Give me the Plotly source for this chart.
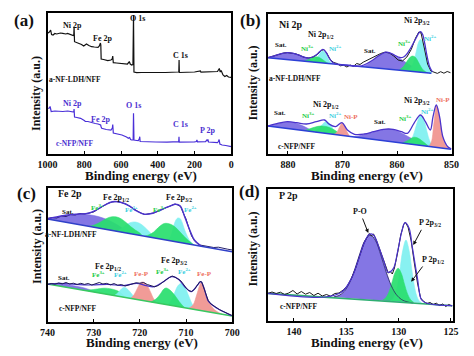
import plotly.graph_objects as go

FONT = "Liberation Serif, Times New Roman, serif"
W, H = 474, 356

# ---------------- (a) survey spectra ----------------
a_ldh_ev = [1000, 990, 983, 978, 970, 960, 950, 930, 917, 900, 891, 880, 869, 860, 857, 855.5, 853,
            840, 829, 815, 803, 795, 788, 775, 760, 745, 725, 718, 715, 712, 710, 708, 695, 672, 655,
            648, 645, 642, 625, 603, 580, 565, 558, 555, 550, 542, 535, 532, 529.5, 515, 490, 445,
            358, 288, 285.5, 284, 282.5, 200, 168, 165, 100, 75, 65, 60, 55, 45, 35, 25, 15, 0]
a_ldh_int = [120.7, 122, 124, 119.5, 119, 120.5, 120, 121, 120.7, 120, 120.5, 119.5, 119, 118.5, 119,
             127.3, 112.3, 111.5, 110.7, 109.5, 108, 109.5, 110, 108.5, 107.3, 107, 106.7, 108, 110.5,
             111, 109, 95, 94.5, 93.3, 94, 95, 98, 91.3, 91, 90.7, 90.3, 90, 91.5, 92.5, 90, 89, 89.5,
             139, 82, 81.3, 81.5, 81.3, 81.5, 82, 82, 94, 81.5, 82, 83, 81.8, 82, 82.5, 85.5, 82, 83.5,
             79, 77.5, 78.5, 77, 76.7]
a_nfp_ev = [1000, 990, 986, 980, 960, 940, 917, 890, 865, 857, 855.5, 853, 840, 820, 800, 794, 780,
            760, 740, 725, 715, 711, 708, 705, 680, 655, 647, 645, 642, 620, 595, 570, 560, 553, 548,
            542, 534, 532, 529.5, 515, 506, 500, 498, 496, 480, 411, 350, 288, 286, 284.5, 283, 200,
            190, 187, 184, 140, 133, 130, 127, 124, 100, 75, 70, 66, 62, 50, 30, 19, 10, 0]
a_nfp_int = [45.7, 46, 47.5, 42.5, 43, 42.5, 42.5, 43, 42.3, 42, 45, 37, 36.5, 35.7, 33.5, 32.5, 32.5,
             31.3, 30.5, 30, 29.5, 29, 27, 25.7, 24.5, 24, 26, 29.5, 21, 20, 19, 17, 15.7, 16.5, 14.5,
             14, 14, 40.7, 14, 13.5, 13.3, 15.5, 17.3, 12.5, 12.3, 12, 11.8, 12.3, 12.3, 17.3, 11.8,
             12.2, 12.5, 14, 12.2, 12.3, 14, 13, 14.5, 12, 11.7, 11.3, 12.5, 14.5, 10, 9, 8.5, 8, 7.5, 7.3]

# ---------------- (b) Ni 2p ----------------
b1_base_ev = [883.7, 853.7]
b1_base_int = [96.3, 80.7]
b1_sat1_ev = [883.7, 882.5, 881.0, 880.0, 879.0, 878.0, 877.0, 876.0, 875.3]
b1_sat1_int = [96.3, 98.0, 100.5, 101.3, 100.7, 99.0, 97.0, 94.8, 92.0]
b1_ni3a_ev = [877.0, 876.3, 875.6, 875.0, 874.4, 873.8, 873.2, 872.6]
b1_ni3a_int = [92.8, 94.5, 96.6, 97.3, 96.8, 95.0, 92.6, 90.5]
b1_ni2a_ev = [875.4, 874.9, 874.4, 874.0, 873.6, 873.2, 872.8, 872.4, 871.9]
b1_ni2a_int = [92.0, 94.5, 98.5, 101.8, 103.0, 101.5, 97.5, 93.0, 90.2]
b1_sat2_ev = [866.5, 865.5, 864.5, 863.5, 862.5, 862.0, 861.5, 860.5, 859.5, 858.5, 857.5, 856.5,
              855.5, 854.5, 853.8]
b1_sat2_int = [87.4, 89.5, 93.0, 97.5, 101.0, 101.8, 101.5, 99.0, 95.5, 92.0, 88.5, 85.5, 83.5, 82.0, 80.8]
b1_ni3b_ev = [859.6, 858.8, 858.2, 857.6, 857.1, 856.6, 856.1, 855.6, 855.1, 854.4]
b1_ni3b_int = [83.9, 87.5, 92.5, 96.8, 98.0, 96.5, 92.0, 87.0, 83.5, 81.2]
b1_ni2b_ev = [858.2, 857.5, 857.0, 856.5, 856.1, 855.7, 855.3, 855.0, 854.6, 854.2, 853.6]
b1_ni2b_int = [83.4, 86.0, 91.5, 102.0, 111.0, 114.5, 112.0, 105.5, 95.0, 86.5, 80.8]
b1_env_ev = [883.7, 882.5, 881, 880.1, 879, 878, 877, 876.2, 875.5, 874.8, 874.2, 873.6, 873, 872.4,
             871.8, 871.2, 870.5, 869.5, 868.5, 867.5, 866.5, 865.5, 864.5, 863.5, 862.5, 862, 861.5,
             860.5, 859.5, 858.8, 858.2, 857.6, 857, 856.5, 856, 855.7, 855.3, 854.9, 854.5, 854, 853.5]
b1_env_int = [96.3, 98.2, 100.6, 101.3, 100.6, 98.8, 96.8, 96.0, 97.0, 99.2, 102.3, 104.7, 101.5, 95.5,
              91.5, 90.0, 89.4, 88.9, 88.4, 88.0, 88.2, 90.5, 93.8, 97.8, 101, 101.8, 101.4, 99, 96.5, 97,
              100, 105, 111, 116, 121, 122.3, 119.5, 110, 98, 87, 82]
b1_raw_ev = [883.7, 883.0, 882.3, 881.5, 880.8, 880.1, 879.4, 878.6, 877.8, 877.0, 876.2, 875.4, 874.6,
             873.9, 873.4, 872.8, 872.2, 871.6, 871.0, 870.4, 869.8, 869.2, 868.6, 868.0, 867.4, 866.8,
             866.2, 865.4, 864.6, 863.8, 863.0, 862.2, 861.4, 860.6, 859.8, 859.0, 858.2, 857.4, 856.6,
             856.0, 855.6, 855.0, 854.4, 853.8, 853.2, 852.6, 852.0, 851.4, 850.8, 850.2]
b1_raw_int = [96.3, 97.5, 98.8, 100.2, 101, 101.4, 101, 100.2, 98.5, 96.6, 96, 97, 99.5, 103.5, 104.5,
              100, 94, 91.5, 90.5, 88.2, 88.8, 87.0, 89, 87.6, 90.5, 89.5, 91.8, 94, 96, 98, 100.5, 101.8,
              101, 98, 94, 93, 97, 104.5, 116, 122, 121, 106, 90, 83, 81.5, 80.6, 82.3, 80.8, 82.5, 81.3]

b2_base_ev = [883.7, 850.1]
b2_base_int = [28.0, 4.7]
b2_sat1_ev = [883.7, 882.5, 881.0, 880.0, 879.0, 878.0, 877.0, 876.0, 875.0, 874.3]
b2_sat1_int = [28.0, 29.5, 31.2, 32.0, 31.5, 29.8, 27.5, 24.5, 22.2, 21.5]
b2_ni3a_ev = [877.0, 876.0, 875.0, 874.0, 873.0, 872.0, 871.0, 870.5]
b2_ni3a_int = [23.4, 25.2, 27.0, 28.0, 27.5, 25.5, 22.2, 18.9]
b2_ni2a_ev = [875.3, 874.5, 873.8, 873.2, 872.8, 872.3, 871.8, 871.2]
b2_ni2a_int = [22.2, 25.0, 29.0, 32.0, 32.3, 30.0, 25.5, 19.4]
b2_nipa_ev = [871.6, 871.0, 870.5, 870.1, 869.7, 869.2, 868.7]
b2_nipa_int = [19.6, 22.0, 27.5, 31.0, 29.0, 22.5, 17.6]
b2_sat2_ev = [868.0, 867.0, 866.0, 865.0, 864.0, 863.0, 862.0, 861.5, 861.0, 860.0, 859.0, 858.0,
              857.0, 856.0, 855.0, 854.0, 853.4]
b2_sat2_int = [17.1, 18.0, 19.5, 21.0, 22.5, 23.8, 24.6, 24.7, 24.4, 23.0, 20.5, 17.5, 14.5, 12.0, 10.2,
               8.8, 7.0]
b2_ni3b_ev = [859.0, 858.0, 857.3, 856.8, 856.2, 855.5, 854.8, 854.2]
b2_ni3b_int = [11.0, 13.5, 16.0, 16.8, 16.0, 13.5, 10.5, 7.6]
b2_ni2b_ev = [858.2, 857.5, 857.0, 856.5, 856.0, 855.7, 855.3, 854.9, 854.5, 854.0, 853.5, 853.3]
b2_ni2b_int = [10.3, 13.5, 19.0, 28.0, 36.0, 38.5, 37.0, 31.0, 22.0, 13.0, 8.0, 7.0]
b2_nipb_ev = [854.2, 853.7, 853.3, 853.0, 852.8, 852.5, 852.2, 851.9, 851.5, 851.0, 850.4]
b2_nipb_int = [7.6, 12.0, 28.0, 42.0, 48.5, 45.0, 36.0, 24.0, 14.0, 8.0, 5.2]
b2_env_ev = [883.7, 881.9, 880.1, 878.4, 876.6, 874.8, 873.3, 872.5, 871.3, 870.1, 869.1, 867.8, 866.0,
             864.3, 862.5, 860.7, 859.2, 858.1, 856.9, 855.7, 854.8, 853.9, 853.4, 852.8, 852.2, 851.6,
             850.7, 850.0]
b2_env_int = [28.0, 30.7, 32.3, 31.3, 30.0, 32.3, 34.0, 30.0, 27.3, 31.3, 24.0, 19.7, 20.0, 22.3, 24.7,
              24.7, 22.3, 20.7, 30.7, 39.0, 32.3, 24.0, 37.3, 49.0, 37.3, 17.3, 7.3, 5.0]

# ---------------- (c) Fe 2p ----------------
c1_base_ev = [740, 700]
c1_base_int = [103.0, 70.3]
c1_sat_ev = [740, 738, 736, 734, 732, 730, 728, 726, 724, 722]
c1_sat_int = [103.0, 104.5, 106.0, 107.3, 107.5, 106.5, 104.0, 100.0, 94.5, 88.3]
c1_fe3a_ev = [731, 730, 729, 728, 727, 726, 725, 724, 723, 722, 721, 720, 719.5]
c1_fe3a_int = [95.6, 96.8, 98.8, 101.5, 104.0, 105.3, 105.0, 103.0, 99.5, 95.5, 92.0, 89.0, 86.2]
c1_fe2a_ev = [725, 724, 723, 722, 721, 720, 719, 718, 716.8]
c1_fe2a_int = [90.7, 93.5, 97.0, 99.5, 100.0, 98.5, 95.0, 90.5, 84.0]
c1_fe3b_ev = [719, 718, 717, 716, 715, 714.4, 713.5, 712.5, 711.5, 710.5, 709.5, 708.3]
c1_fe3b_int = [85.8, 87.3, 90.0, 94.5, 98.0, 98.7, 98.0, 95.5, 91.0, 86.0, 81.5, 77.1]
c1_fe2b_ev = [714, 713.3, 712.8, 712.3, 711.8, 711.3, 710.8, 710.3, 709.7, 709.0, 708.2]
c1_fe2b_int = [81.7, 86.0, 94.0, 101.0, 104.0, 103.5, 99.0, 92.0, 85.5, 80.0, 77.0]
c1_env_ev = [740, 736.7, 733.9, 731.1, 729.4, 727.6, 725.9, 724.2, 722.4, 720.7, 719.0, 717.2, 715.5,
             713.8, 712.4, 711.3, 710.3, 709.2, 708.2, 706.8]
c1_env_int = [103.2, 106.3, 107.7, 108.7, 112.0, 117.0, 120.3, 119.7, 116.3, 111.0, 107.7, 108.7, 112.0,
              115.3, 117.7, 116.3, 105.3, 92.0, 82.0, 76.3]
c1_raw_ev = [740, 739, 738, 737, 736, 735, 734, 733, 732, 731, 730, 729, 728, 727, 726, 725, 724, 723,
             722, 721, 720, 719, 718, 717, 716, 715, 714, 713, 712.4, 711.8, 711.2, 710.6, 710, 709.4,
             708.8, 708.2, 707.6, 707, 706, 705, 704, 703, 702, 701, 700]
c1_raw_int = [103.5, 104.5, 104, 106, 105.5, 107.5, 107, 108.5, 108, 109, 110, 113, 115.5, 118.5, 120,
              120.5, 119.5, 118, 115, 112, 109.5, 107.5, 108, 109, 111, 113, 115, 117, 118, 117, 115.5,
              109, 103, 94, 86, 81.5, 78.5, 77, 76, 75.5, 74.5, 74.8, 73.5, 72.8, 72]

c2_base_ev = [740, 700]
c2_base_int = [38.0, 6.0]
c2_sat_ev = [740, 738, 736, 734, 732, 730.5, 729.5]
c2_sat_int = [38.0, 38.2, 37.5, 36.0, 34.0, 31.6, 29.6]
c2_fe3a_ev = [732, 730, 728.5, 727.5, 726.5, 725, 724, 723.3]
c2_fe3a_int = [31.6, 32.5, 33.5, 33.8, 33.3, 31.5, 28.8, 24.6]
c2_fe2a_ev = [725.5, 724.8, 724, 723.5, 723, 722.2, 721.5, 720.8]
c2_fe2a_int = [26.4, 29.0, 33.0, 34.5, 34.0, 30.5, 26.5, 22.6]
c2_fepa_ev = [722, 721.3, 720.5, 719.8, 719.3, 718.5, 717.7, 717, 716.4]
c2_fepa_int = [23.6, 27.0, 34.0, 39.5, 40.0, 37.0, 30.0, 23.0, 19.1]
c2_fe3b_ev = [717.6, 716.5, 715.5, 714.8, 714.3, 713.5, 712.5, 711.5, 710.5, 710.2]
c2_fe3b_int = [20.1, 23.0, 28.5, 33.0, 34.0, 32.0, 27.0, 20.5, 15.2, 14.2]
c2_fe2b_ev = [714, 713.3, 712.5, 711.8, 711.1, 710.4, 709.6, 708.8, 708]
c2_fe2b_int = [17.2, 21.0, 29.0, 36.0, 38.5, 36.0, 28.0, 19.0, 12.4]
c2_fepb_ev = [709.5, 708.5, 707.7, 707.1, 706.7, 706.3, 705.7, 705, 704.2, 703.3, 702.2]
c2_fepb_int = [13.6, 17.0, 27.0, 36.0, 39.5, 37.0, 28.0, 20.0, 14.0, 10.5, 7.8]
c2_env_ev = [740, 737.4, 733.9, 730.4, 726.9, 723.5, 720.7, 718.6, 716.9, 715.1, 713.1, 711.7, 710.3,
             708.9, 707.5, 706.8, 706.1, 705.1, 703.3, 701.6, 700.2]
c2_env_int = [37.7, 38.7, 37.7, 37.0, 37.7, 36.3, 38.7, 36.3, 35.3, 39.7, 45.3, 43.0, 35.3, 30.3, 37.0,
              40.3, 33.7, 20.3, 13.7, 9.7, 6.3]
c2_raw_ev = [740, 739.2, 738.4, 737.6, 736.8, 736, 735.2, 734.4, 733.6, 732.8, 732, 731.2, 730.4, 729.6,
             728.8, 728, 727.2, 726.4, 725.6, 724.8, 724, 723.2, 722.4, 721.6, 720.8, 720, 719.2, 718.4,
             717.6, 716.8, 716, 715.2, 714.4, 713.6, 713, 712.4, 711.8, 711.2, 710.6, 710, 709.4, 708.8,
             708.2, 707.6, 707, 706.6, 706.2, 705.8, 705.2, 704.6, 704, 703.4, 702.8, 702.2, 701.6, 701,
             700.4, 700]
c2_raw_int = [37.5, 38.5, 37.8, 39, 38.2, 39.5, 38, 38.8, 37.5, 38.7, 37.6, 38.5, 37, 38.2, 39.5, 38,
              38.6, 37.2, 38.4, 36.8, 37.5, 36, 37, 38.5, 39.2, 38.8, 39.5, 37.5, 36.5, 35.2, 36.5, 39.5,
              42, 44.5, 46, 44.8, 43.5, 41.5, 38, 34, 31.5, 30.5, 32.5, 37, 40.5, 40, 35, 28, 21.5, 18, 16,
              14.5, 12.5, 11, 9.8, 8.5, 7, 6.5]

# ---------------- (d) P 2p ----------------
d_base_ev = [142.5, 124.85]
d_base_int = [27.6, 15.2]
d_po_ev = [136.2, 135.7, 135.2, 134.7, 134.2, 133.7, 133.2, 132.7, 132.2, 131.7, 131.2, 130.7, 130.2,
           129.7, 129.2, 128.6]
d_po_int = [24.1, 25.5, 29.6, 38.0, 51.3, 67.3, 80.9, 86.0, 80.2, 65.9, 49.2, 35.2, 26.1, 21.3, 19.2, 17.9]
d_p32_ev = [130.8, 130.5, 130.2, 129.9, 129.6, 129.3, 129.0, 128.7, 128.4, 128.1, 127.8]
d_p32_int = [20.0, 22.6, 31.3, 49.2, 70.9, 81.0, 70.5, 48.4, 30.1, 21.0, 18.0]
d_p12_ev = [131.55, 131.25, 130.95, 130.65, 130.35, 130.05, 129.75, 129.45, 129.15, 128.85, 128.55]
d_p12_int = [20.7, 22.9, 28.4, 38.0, 48.3, 52.8, 47.8, 37.1, 27.1, 21.2, 18.6]
d_env_ev = [142.5, 137.0, 135.4, 134.5, 133.9, 133.3, 132.8, 132.4, 131.9, 131.4, 131.0, 130.5, 130.1,
            129.7, 129.4, 129.0, 128.7, 128.2, 127.8, 127.2, 124.85]
d_env_int = [27.7, 24.0, 29.3, 42.7, 59.3, 77.7, 86.7, 86.0, 74.3, 59.3, 48.7, 52.7, 69.3, 89.3, 98.3,
             92.7, 74.3, 42.7, 21.0, 17.5, 15.3]
d_raw_ev = [142.5, 142.1, 141.7, 141.3, 140.9, 140.5, 140.1, 139.7, 139.3, 138.9, 138.5, 138.1, 137.7,
            137.3, 136.9, 136.5, 136.1, 135.7, 135.3, 134.9, 134.5, 134.1, 133.7, 133.3, 133.0, 132.8,
            132.6, 132.4, 132.1, 131.8, 131.5, 131.2, 131.0, 130.8, 130.6, 130.4, 130.1, 129.8, 129.5,
            129.35, 129.1, 128.8, 128.5, 128.2, 127.9, 127.6, 127.3, 127.0, 126.7, 126.4, 126.1, 125.8,
            125.5, 125.2, 124.9]
d_raw_int = [27.5, 29, 27.5, 28.8, 26.5, 28, 30.5, 27, 29.5, 26.8, 28.5, 25.5, 27.8, 25, 26.5, 24.8,
             27.5, 28, 31, 35, 43, 53, 66, 78, 84, 87.5, 85, 87, 80, 72, 62, 54, 48, 49.5, 47, 53, 68, 86,
             97, 98.5, 94, 80, 58, 38, 23, 19.5, 17.5, 18.5, 16.5, 17.8, 15.5, 17, 14.5, 16.5, 15]

# ---------------- styles ----------------
PURPLE_F = "rgba(122,106,226,0.92)"
GREEN_F = "rgba(40,222,110,0.92)"
CYAN_F = "rgba(130,240,240,0.95)"
SALMON_F = "rgba(240,150,145,0.95)"
ENV = "#4b33cc"
RAW = "#1a1a1a"

fig = go.Figure()


def line(ev, it, ax, color, width=1.2, shape="linear"):
    fig.add_trace(go.Scatter(x=ev, y=it, mode="lines", xaxis="x" + ax, yaxis="y" + ax,
                             line=dict(color=color, width=width, shape=shape),
                             hoverinfo="skip", showlegend=False))


def comp(ev, it, ax, color):
    fig.add_trace(go.Scatter(x=ev, y=it, mode="lines", fill="toself", fillcolor=color,
                             xaxis="x" + ax, yaxis="y" + ax,
                             line=dict(color=color, width=0.6, shape="spline"),
                             hoverinfo="skip", showlegend=False))


# (a)
line(a_ldh_ev, a_ldh_int, "", "#111111", 1.2)
line(a_nfp_ev, a_nfp_int, "", "#4a30d8", 1.2)

# (b)
comp(b1_sat1_ev, b1_sat1_int, "2", PURPLE_F)
comp(b1_sat2_ev, b1_sat2_int, "2", PURPLE_F)
comp(b1_ni2a_ev, b1_ni2a_int, "2", CYAN_F)
comp(b1_ni3a_ev, b1_ni3a_int, "2", GREEN_F)
comp(b1_ni2b_ev, b1_ni2b_int, "2", CYAN_F)
comp(b1_ni3b_ev, b1_ni3b_int, "2", GREEN_F)
line(b1_raw_ev, b1_raw_int, "2", RAW, 1.0)
line(b1_base_ev, b1_base_int, "2", "#2c3fd6", 1.6)
line(b1_env_ev, b1_env_int, "2", ENV, 1.3, "spline")

comp(b2_sat1_ev, b2_sat1_int, "2", PURPLE_F)
comp(b2_sat2_ev, b2_sat2_int, "2", PURPLE_F)
comp(b2_ni2a_ev, b2_ni2a_int, "2", CYAN_F)
comp(b2_ni3a_ev, b2_ni3a_int, "2", GREEN_F)
comp(b2_nipa_ev, b2_nipa_int, "2", SALMON_F)
comp(b2_ni2b_ev, b2_ni2b_int, "2", CYAN_F)
comp(b2_ni3b_ev, b2_ni3b_int, "2", GREEN_F)
comp(b2_nipb_ev, b2_nipb_int, "2", SALMON_F)
line(b2_base_ev, b2_base_int, "2", "#2c3fd6", 1.6)
line(b2_env_ev, b2_env_int, "2", ENV, 1.3, "spline")

# (c)
comp(c1_sat_ev, c1_sat_int, "3", PURPLE_F)
comp(c1_fe2a_ev, c1_fe2a_int, "3", CYAN_F)
comp(c1_fe3a_ev, c1_fe3a_int, "3", GREEN_F)
comp(c1_fe2b_ev, c1_fe2b_int, "3", CYAN_F)
comp(c1_fe3b_ev, c1_fe3b_int, "3", GREEN_F)
line(c1_raw_ev, c1_raw_int, "3", "#26206a", 1.0)
line(c1_base_ev, c1_base_int, "3", "#3040c8", 1.4)
line(c1_env_ev, c1_env_int, "3", ENV, 1.4, "spline")

comp(c2_sat_ev, c2_sat_int, "3", PURPLE_F)
comp(c2_fe3a_ev, c2_fe3a_int, "3", GREEN_F)
comp(c2_fe2a_ev, c2_fe2a_int, "3", CYAN_F)
comp(c2_fepa_ev, c2_fepa_int, "3", SALMON_F)
comp(c2_fe2b_ev, c2_fe2b_int, "3", CYAN_F)
comp(c2_fe3b_ev, c2_fe3b_int, "3", GREEN_F)
comp(c2_fepb_ev, c2_fepb_int, "3", SALMON_F)
line(c2_base_ev, c2_base_int, "3", "#38c860", 1.6)
line(c2_env_ev, c2_env_int, "3", ENV, 1.2, "spline")
line(c2_raw_ev, c2_raw_int, "3", "#1e1a55", 1.0)

# (d)
comp(d_po_ev, d_po_int, "4", PURPLE_F)
comp(d_p32_ev, d_p32_int, "4", CYAN_F)
comp(d_p12_ev, d_p12_int, "4", GREEN_F)
line(d_po_ev, d_po_int, "4", "#2a2a60", 0.8, "spline")
line(d_base_ev, d_base_int, "4", "#2fae72", 1.6)
line(d_raw_ev, d_raw_int, "4", RAW, 1.0)
line(d_env_ev, d_env_int, "4", ENV, 1.2, "spline")


# ---------------- axes (positions given in window pixels) ----------------
def px_x(p):
    return p / W


def px_y(p):
    return 1 - p / H


tickfont = dict(family=FONT, size=10, color="#111", weight="bold")
axcommon = dict(showline=True, linecolor="black", linewidth=1.6, mirror=True, showgrid=False,
                zeroline=False, ticks="inside", ticklen=3, tickwidth=1, tickcolor="black",
                tickfont=tickfont)
ycommon = dict(showline=True, linecolor="black", linewidth=1.6, mirror=True, showgrid=False,
               zeroline=False, showticklabels=False, ticks="")

fig.update_layout(
    width=W, height=H, margin=dict(l=0, r=0, t=0, b=0),
    paper_bgcolor="white", plot_bgcolor="white", showlegend=False,
    xaxis=dict(axcommon, domain=[px_x(39), px_x(230)], range=[1000, 0],
               tickvals=[1000, 800, 600, 400, 200, 0], anchor="y"),
    yaxis=dict(ycommon, domain=[px_y(154), px_y(13)], range=[0, 141], anchor="x"),
    xaxis2=dict(axcommon, domain=[px_x(268), px_x(459)], range=[883.7, 850],
                tickvals=[880, 870, 860, 850], anchor="y2"),
    yaxis2=dict(ycommon, domain=[px_y(154), px_y(14)], range=[0, 140], anchor="x2"),
    xaxis3=dict(axcommon, domain=[px_x(39), px_x(231)], range=[740, 700],
                tickvals=[740, 730, 720, 710, 700], anchor="y3"),
    yaxis3=dict(ycommon, domain=[px_y(322), px_y(188)], range=[0, 134], anchor="x3"),
    xaxis4=dict(axcommon, domain=[px_x(268), px_x(460)], range=[142.5, 124.85],
                tickvals=[140, 135, 130, 125], anchor="y4"),
    yaxis4=dict(ycommon, domain=[px_y(321), px_y(189)], range=[0, 132], anchor="x4"),
)

ann = []


def txt(x, y, s, ax, size=8, color="#111", xanchor="center", bold=True):
    ann.append(dict(x=x, y=y, xref="x" + ax, yref="y" + ax, text=s, showarrow=False,
                    xanchor=xanchor, yanchor="middle",
                    font=dict(family=FONT, size=size, color=color, weight="bold" if bold else "normal")))


def ptxt(x, y, s, size, angle=0):
    ann.append(dict(x=px_x(x), y=px_y(y), xref="paper", yref="paper", text=s, showarrow=False,
                    xanchor="center", yanchor="middle", textangle=angle,
                    font=dict(family=FONT, size=size, color="#111", weight="bold")))


GRN = "#22cc44"
CYN = "#3ccfe0"
SAL = "#ee7060"
PUR = "#4a30d0"

# panel letters and axis titles
ptxt(15, 20, "(a)", 17)
ptxt(250, 20, "(b)", 17)
ptxt(17, 193, "(c)", 17)
ptxt(249, 191, "(d)", 17)
for cx, cy in [(136, 175), (371, 175), (137, 342), (371, 342)]:
    ptxt(cx, cy, "Binding energy (eV)", 13)
for cx, cy in [(27, 93), (253, 83), (28, 246), (253, 249)]:
    ptxt(cx, cy, "Intensity (a.u.)", 12, angle=-90)

# (a) labels
txt(864, 129, "Ni 2p", "", 8)
txt(702, 116, "Fe 2p", "", 8)
txt(512, 136, "O 1s", "", 8)
txt(277, 99, "C 1s", "", 8)
txt(851, 75, "a-NF-LDH/NFF", "", 7.5)
txt(866, 50.7, "Ni 2p", "", 8, PUR)
txt(712, 34.7, "Fe 2p", "", 8, PUR)
txt(531, 48.3, "O 1s", "", 8, PUR)
txt(277, 29.7, "C 1s", "", 8, PUR)
txt(131, 24, "P 2p", "", 8, PUR)
txt(851, 10.7, "c-NFP/NFF", "", 7.5, PUR)

# (b) labels
txt(881.94, 129, "Ni 2p", "2", 10, xanchor="left")
txt(881.2, 109, "Sat.", "2", 7)
txt(874.0, 119, "Ni 2p<sub>1/2</sub>", "2", 8)
txt(876.5, 105, "Ni<sup>3+</sup>", "2", 7, GRN)
txt(871.4, 105, "Ni<sup>2+</sup>", "2", 7, CYN)
txt(865.0, 103, "Sat.", "2", 7)
txt(856.4, 133, "Ni 2p<sub>3/2</sub>", "2", 8)
txt(858.8, 110.7, "Ni<sup>3+</sup>", "2", 7, GRN)
txt(853.9, 115.7, "Ni<sup>2+</sup>", "2", 7, CYN)
txt(878.7, 76, "a-NF-LDH/NFF", "2", 7.5)
txt(881.4, 40.7, "Sat.", "2", 7)
txt(876.3, 39, "Ni<sup>3+</sup>", "2", 7, GRN)
txt(873.1, 49, "Ni 2p<sub>1/2</sub>", "2", 8)
txt(871.3, 39, "Ni<sup>2+</sup>", "2", 7, CYN)
txt(868.4, 37.3, "Ni-P", "2", 7, SAL)
txt(863.2, 32.3, "Sat.", "2", 7)
txt(858.5, 35.7, "Ni<sup>3+</sup>", "2", 7, GRN)
txt(856.4, 53, "Ni 2p<sub>3/2</sub>", "2", 8)
txt(854.5, 43, "Ni<sup>2+</sup>", "2", 7, CYN)
txt(851.6, 54, "Ni-P", "2", 7, SAL)
txt(878.5, 8, "c-NFP/NFF", "2", 7.5)

# (c) labels
txt(738.1, 128, "Fe 2p", "3", 10, xanchor="left")
txt(735.6, 109.7, "Sat.", "3", 7)
txt(729.2, 114.3, "Fe<sup>3+</sup>", "3", 7, GRN)
txt(725.2, 123.7, "Fe 2p<sub>1/2</sub>", "3", 8)
txt(721.9, 112, "Fe<sup>2+</sup>", "3", 7, CYN)
txt(715.8, 112, "Fe<sup>3+</sup>", "3", 7, GRN)
txt(711.5, 123.7, "Fe 2p<sub>3/2</sub>", "3", 8)
txt(709.0, 112, "Fe<sup>2+</sup>", "3", 7, CYN)
txt(734.9, 87, "a-NF-LDH/NFF", "3", 7.5)
txt(736.5, 44.3, "Sat.", "3", 7)
txt(726.9, 55.3, "Fe 2p<sub>1/2</sub>", "3", 8)
txt(729.0, 47.7, "Fe<sup>3+</sup>", "3", 7, GRN)
txt(724.3, 47.7, "Fe<sup>2+</sup>", "3", 7, CYN)
txt(719.6, 47.7, "Fe-P", "3", 7, SAL)
txt(715.1, 50.3, "Fe<sup>3+</sup>", "3", 7, GRN)
txt(712.7, 61, "Fe 2p<sub>3/2</sub>", "3", 8)
txt(710.3, 50.3, "Fe<sup>2+</sup>", "3", 7, CYN)
txt(706.1, 47.7, "Fe-P", "3", 7, SAL)
txt(733.5, 13.7, "c-NFP/NFF", "3", 7.5)

# (d) labels
txt(141.58, 126, "P 2p", "4", 10, xanchor="left")
txt(133.7, 110, "P-O", "4", 8)
txt(127.0, 97.7, "P 2p<sub>3/2</sub>", "4", 8)
txt(126.7, 61, "P 2p<sub>1/2</sub>", "4", 8)
txt(139.6, 14.3, "c-NFP/NFF", "4", 7.5)
for hx, hy, tx, ty in [(132.9, 88, 133.5, 104), (128.6, 76, 127.75, 92.7), (128.8, 39.3, 127.6, 56)]:
    ann.append(dict(x=hx, y=hy, xref="x4", yref="y4", ax=tx, ay=ty, axref="x4", ayref="y4",
                    text="", showarrow=True, arrowhead=2, arrowsize=0.8, arrowwidth=1,
                    arrowcolor="#111"))

fig.update_layout(annotations=ann)
fig.write_html("out.html", config={"displayModeBar": False},
               post_script="document.body.style.margin='0';document.body.style.overflow='hidden';")
